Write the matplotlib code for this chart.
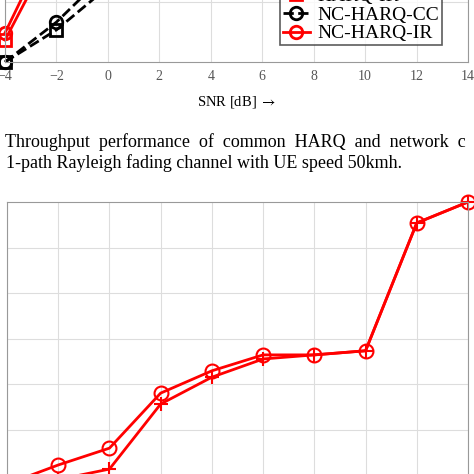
import matplotlib
matplotlib.use('Agg')
import matplotlib.pyplot as plt

plt.rcParams['font.family'] = ['Liberation Serif', 'DejaVu Serif']
plt.rcParams['mathtext.fontset'] = 'stix'

snr = [-4, -2, 0, 2, 4, 6, 8, 10, 12, 14]

# top figure (only the lower part is visible)
top_snr = [-4, -2, 0]
harq_cc = [0.0, 0.107, 0.25]
harq_ir = [0.073, 0.4, 0.7]
nc_harq_cc = [0.0, 0.133, 0.3]
nc_harq_ir = [0.097, 0.45, 0.75]

# bottom figure
bot_circle = [0.38, 0.422, 0.459, 0.58, 0.629, 0.664, 0.664, 0.673, 0.954, 1.0]
bot_plus = [0.36, 0.39, 0.413, 0.556, 0.615, 0.655, 0.664, 0.673, 0.954, 1.0]

W = H = 474
fig = plt.figure(figsize=(W / 100, H / 100), dpi=100)

def box(l, b, r, t):
    return [l / W, 1 - b / H, (r - l) / W, (b - t) / H]

ax1 = fig.add_axes(box(5, 62, 468, -238))
ax1.plot(top_snr, harq_cc, 'k--', marker='s', mfc='none', ms=9, mew=2, lw=2, label='HARQ-CC', clip_on=False)
ax1.plot(top_snr, harq_ir, 'r-', marker='s', mfc='none', ms=9, mew=2, lw=2, label='HARQ-IR', clip_on=False)
ax1.plot(top_snr, nc_harq_cc, 'k--', marker='o', mfc='none', ms=9, mew=2, lw=2, label='NC-HARQ-CC', clip_on=False)
ax1.plot(top_snr, nc_harq_ir, 'r-', marker='o', mfc='none', ms=9, mew=2, lw=2, label='NC-HARQ-IR', clip_on=False)
ax1.set_xlim(-4, 14)
ax1.set_ylim(0, 1)
ax1.set_xticks(range(-4, 15, 2))
ax1.set_xticklabels(['\u22124', '\u22122'] + [str(v) for v in range(0, 15, 2)])
ax1.set_yticks([0.2, 0.4, 0.6, 0.8])
ax1.set_yticklabels([])
ax1.tick_params(length=0, labelsize=10, colors='#555555', pad=6)
ax1.grid(color='#dddddd', lw=0.8)
for s in ax1.spines.values():
    s.set_color('#999999')
ax1.set_xlabel(r'SNR [dB] $\rightarrow$', fontsize=10.5, labelpad=8)
leg = ax1.legend(loc='lower right', bbox_to_anchor=(452 / W, 1 - 55 / H), bbox_transform=fig.transFigure,
                 fontsize=14, fancybox=False, edgecolor='#333333', handlelength=1.4,
                 borderpad=0.15, labelspacing=0.05, handletextpad=0.4)
leg.get_frame().set_linewidth(1.2)

fig.text(5 / W, 1 - 142 / H, 'Throughput  performance  of  common  HARQ  and  network  c',
         fontsize=13, va='center', ha='left')
fig.text(-3 / W, 1 - 163 / H, '  1-path Rayleigh fading channel with UE speed 50kmh.',
         fontsize=13, va='center', ha='left')

ax2 = fig.add_axes(box(7, 384 + 45.5 * 3, 468, 202))
ax2.plot(snr, bot_circle, 'r-', marker='o', mfc='none', ms=10, mew=1.5, lw=2, clip_on=False)
ax2.plot(snr, bot_plus, 'r-', marker='+', ms=10, mew=1.5, lw=2, clip_on=False)
ax2.set_xlim(-4, 14)
ax2.set_ylim(0.3, 1.0)
ax2.set_xticks(snr)
ax2.set_yticks([0.5, 0.6, 0.7, 0.8, 0.9])
ax2.set_xticklabels([])
ax2.set_yticklabels([])
ax2.tick_params(length=0)
ax2.grid(color='#dddddd', lw=0.8)
for s in ax2.spines.values():
    s.set_color('#999999')

fig.savefig('out.png', dpi=100)
